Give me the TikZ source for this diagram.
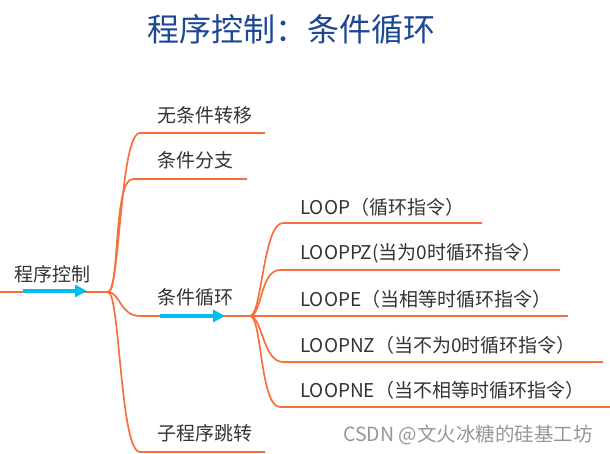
\documentclass[tikz,border=0pt]{standalone}
\usepackage{fontspec}
\setmainfont{Noto Sans CJK SC}
\usetikzlibrary{arrows.meta}
\definecolor{branch}{RGB}{246,112,62}
\definecolor{pointer}{RGB}{0,190,240}
\definecolor{titleblue}{RGB}{28,70,150}
\definecolor{labelgray}{RGB}{51,51,51}
\definecolor{markgray}{RGB}{150,150,150}
\begin{document}
\begin{tikzpicture}[x=1pt,y=-1pt,
  lbl/.style={anchor=west,inner sep=0pt,text=labelgray,font=\fontsize{19}{22}\selectfont},
  ttl/.style={inner sep=0pt,text=titleblue,font=\fontsize{32}{36}\selectfont},
  wmark/.style={anchor=west,inner sep=0pt,text=markgray,font=\fontsize{19.5}{22}\selectfont},
  edge/.style={draw=branch,line width=1.7pt},
  ptr/.style={draw=pointer,line width=3.6pt,-{Triangle[length=12pt,width=12pt]}}]
\useasboundingbox (0,0) rectangle (610,453);

% title
\node[ttl] (title) at (291,29) {程序控制：条件循环};

% root
\node[lbl] (root) at (14,274) {程序控制};
\coordinate (rs) at (0,292);
\coordinate (P) at (108,292);

% first level
\node[lbl] (n1) at (157,115) {无条件转移};
\node[lbl] (n2) at (157,160) {条件分支};
\node[lbl] (n3) at (157,297) {条件循环};
\node[lbl] (n4) at (157,433) {子程序跳转};
\coordinate (a1) at (140,133); \coordinate (b1) at (265,133);
\coordinate (a2) at (133,179); \coordinate (b2) at (247,179);
\coordinate (a3) at (140,316); \coordinate (Q) at (250,316);
\coordinate (a4) at (140,452); \coordinate (b4) at (265,452);

% second level
\node[lbl] (m1) at (300,207) {LOOP（循环指令）};
\node[lbl] (m2) at (300,253) {LOOPPZ(当为0时循环指令）};
\node[lbl] (m3) at (300,299) {LOOPE（当相等时循环指令）};
\node[lbl] (m4) at (300,345) {LOOPNZ（当不为0时循环指令）};
\node[lbl] (m5) at (300,390) {LOOPNE（当不相等时循环指令）};
\coordinate (c1) at (283,223); \coordinate (d1) at (482,223);
\coordinate (c2) at (280,270); \coordinate (d2) at (560,270);
\coordinate (d3) at (568,316);
\coordinate (c4) at (283,362); \coordinate (d4) at (603,362);
\coordinate (c5) at (280,407); \coordinate (d5) at (610,407);

% watermark
\node[wmark] (wm) at (343,435) {CSDN @文火冰糖的硅基工坊};

% connectors
\draw[edge] (rs) -- (P);
\draw[edge] (P) .. controls (120,292) and (120,133) .. (a1) -- (b1);
\draw[edge] (P) .. controls (120,292) and (113,179) .. (a2) -- (b2);
\draw[edge] (P) .. controls (120,292) and (120,316) .. (a3) -- (Q);
\draw[edge] (P) .. controls (120,292) and (120,452) .. (a4) -- (b4);

\draw[edge] (Q) .. controls (262,316) and (263,223) .. (c1) -- (d1);
\draw[edge] (Q) .. controls (262,316) and (260,270) .. (c2) -- (d2);
\draw[edge] (Q) -- (d3);
\draw[edge] (Q) .. controls (262,316) and (263,362) .. (c4) -- (d4);
\draw[edge] (Q) .. controls (262,316) and (260,407) .. (c5) -- (d5);

% pointers
\draw[ptr] (23,291) -- (87,291);
\draw[ptr] (160,316) -- (225,316);
\end{tikzpicture}
\end{document}
